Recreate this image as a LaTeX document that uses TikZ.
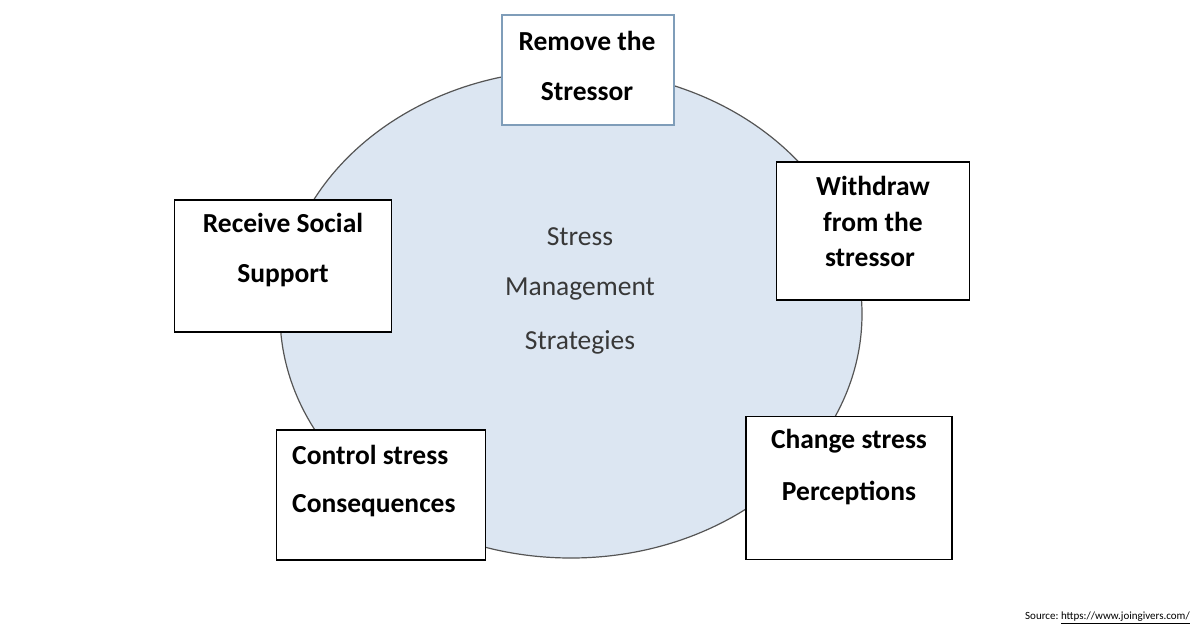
\documentclass[tikz,border=0pt]{standalone}
\usepackage{fontspec}
\setmainfont{Carlito}
\usetikzlibrary{shapes.geometric}
\definecolor{fillblue}{HTML}{DCE6F2}
\definecolor{edgegray}{HTML}{555555}
\definecolor{topedge}{HTML}{7F9DB9}
\begin{document}
\begin{tikzpicture}[x=1pt,y=-1pt,
  box/.style={draw=black,line width=1.3pt,fill=white,inner sep=0pt},
  txt/.style={font=\fontsize{27.5}{30}\selectfont\bfseries,inner sep=0pt,anchor=center}]
\useasboundingbox (0,0) rectangle (1200,630);
\node[ellipse,draw=edgegray,line width=1.2pt,fill=fillblue,minimum width=582,minimum height=488,inner sep=0pt] (core) at (571,314) {};
\node[font=\fontsize{27.5}{30}\selectfont,text=black!78,inner sep=0pt] (l1) at (580,237) {Stress};
\node[font=\fontsize{27.5}{30}\selectfont,text=black!78,inner sep=0pt] (l2) at (580,289) {Management};
\node[font=\fontsize{27.5}{30}\selectfont,text=black!78,inner sep=0pt] (l3) at (580,342) {Strategies};
\node[box,draw=topedge,minimum width=172,minimum height=110] (remove) at (588,70) {};
\node[txt] (r1) at (587,41) {Remove the};
\node[txt] (r2) at (587,92) {Stressor};
\node[box,minimum width=193,minimum height=138] (withdraw) at (873,231) {};
\node[txt] (w1) at (873,186) {Withdraw};
\node[txt] (w2) at (873,222) {from the};
\node[txt] (w3) at (870,258) {stressor};
\node[box,minimum width=217,minimum height=132] (social) at (283,266) {};
\node[txt] (s1) at (283,223) {Receive Social};
\node[txt] (s2) at (283,276) {Support};
\node[box,minimum width=209,minimum height=130] (control) at (381,495) {};
\node[txt,anchor=west] (c1) at (292,455) {Control stress};
\node[txt,anchor=west] (c2) at (292,506) {Consequences};
\node[box,minimum width=206,minimum height=143] (change) at (849,488) {};
\node[txt] (p1) at (849,441) {Change stress};
\node[txt] (p2) at (849,493) {Perceptions};
\node[anchor=east,font=\fontsize{11}{13}\selectfont,inner sep=0pt] (src) at (1190,618) {Source:\ \underline{https://www.joingivers.com/}};
\end{tikzpicture}
\end{document}
